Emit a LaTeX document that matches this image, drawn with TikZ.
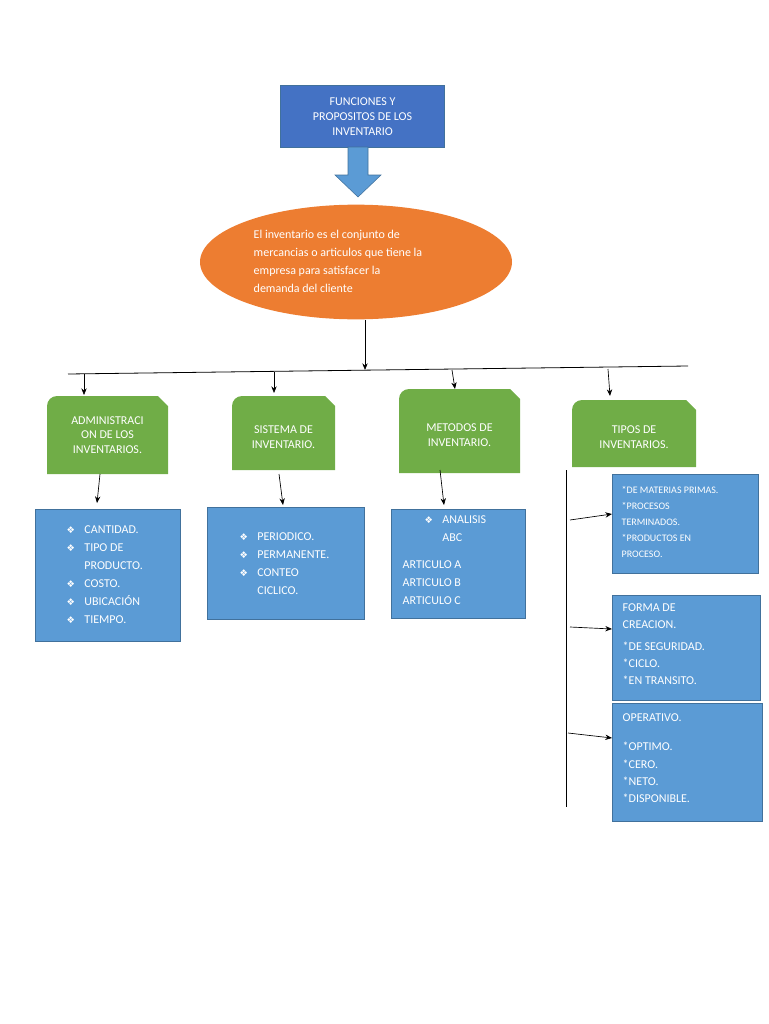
\documentclass[tikz,border=0pt]{standalone}
\usepackage{fontspec}
\setmainfont{Carlito}
\newfontfamily\symf{DejaVu Sans}
\usetikzlibrary{arrows.meta,shapes.geometric}
\definecolor{tb}{HTML}{4472C4}
\definecolor{bb}{HTML}{5B9BD5}
\definecolor{bd}{HTML}{41719C}
\definecolor{og}{HTML}{ED7D31}
\definecolor{gg}{HTML}{70AD47}
\newcommand{\dia}{{\symf\scriptsize ❖}}
\begin{document}
\begin{tikzpicture}[x=0.75pt,y=-0.75pt,
  blue/.style={fill=bb,draw=bd,line width=0.8pt},
  green/.style={fill=gg,draw=none},
  wt/.style={text=white,font=\fontsize{9}{11}\selectfont,align=center},
  arr/.style={-{Stealth[length=5pt,width=4pt]},line width=0.5pt}]
\useasboundingbox (0,0) rectangle (768,1024);
% title
\node[fill=tb,draw=bd,line width=0.8pt,minimum width=123pt,minimum height=46.5pt,wt,anchor=north west] (t) at (280,85) {FUNCIONES Y\\PROPOSITOS DE LOS\\INVENTARIO};
\fill[bb,draw=bd] (348,147) -- (368,147) -- (368,175) -- (381,175) -- (358,197) -- (335,175) -- (348,175) -- cycle;
\node[draw=none,fill=og,ellipse,minimum width=234pt,minimum height=86pt] (e) at (356,262) {};
\node[text=white,font=\fontsize{9}{13.5}\selectfont,align=left,anchor=north west] (et) at (249,225) {El inventario es el conjunto de\\mercancias o articulos que tiene la\\empresa para satisfacer la\\demanda del cliente};
\coordinate (h1) at (68,374); \coordinate (h2) at (688,366);
\draw[line width=0.6pt] (h1) -- (h2);
\coordinate (eb) at (365,370);
\draw[arr] (e.south -| eb) -- (eb);
% green
\def\gbox#1#2#3#4#5{\fill[gg] (#1,#4) -- (#1,#2+10) arc(180:270:10) -- (#3-10,#2) -- (#3,#2+10) -- (#3,#4) -- cycle;}
\gbox{47}{396}{168}{474}{} \node[wt] (g1) at (107.5,435) {ADMINISTRACI\\ON DE LOS\\INVENTARIOS.};
\gbox{232}{396}{335}{470}{} \node[wt] (g2) at (283.5,437) {SISTEMA DE\\INVENTARIO.};
\gbox{399}{389}{520}{473}{} \node[wt] (g3) at (459.5,435) {METODOS DE\\INVENTARIO.};
\gbox{572}{400}{696}{467}{} \node[wt] (g4) at (634,437) {TIPOS DE\\INVENTARIOS.};
\foreach \a/\b/\c/\d in {84/374/84/395,274/372/274/393,452/370/455/389,608/369/610/396,100/474/97/503,279/474/283/505,440/470/444/505}
  \draw[arr] (\a,\b) -- (\c,\d);
% blue boxes
\node[blue,minimum width=108.75pt,minimum height=99pt,anchor=north west] (b1) at (35,509) {};
\node[wt,align=left,anchor=north west,font=\fontsize{9}{13.5}\selectfont] at (62,521) {\dia\hspace{7pt}CANTIDAD.\\\dia\hspace{7pt}TIPO DE\\\hphantom{\dia}\hspace{7pt}PRODUCTO.\\\dia\hspace{7pt}COSTO.\\\dia\hspace{7pt}UBICACIÓN\\\dia\hspace{7pt}TIEMPO.};
\node[blue,minimum width=117.75pt,minimum height=84pt,anchor=north west] (b2) at (207,507) {};
\node[wt,align=left,anchor=north west,font=\fontsize{9}{13.5}\selectfont] at (235,528) {\dia\hspace{7pt}PERIODICO.\\\dia\hspace{7pt}PERMANENTE.\\\dia\hspace{7pt}CONTEO\\\hphantom{\dia}\hspace{7pt}CICLICO.};
\node[blue,minimum width=100.5pt,minimum height=81.75pt,anchor=north west] (b3) at (391,509) {};
\node[wt,align=left,anchor=north west,font=\fontsize{9}{13.5}\selectfont] at (420,511) {\dia\hspace{7pt}ANALISIS\\\hphantom{\dia}\hspace{7pt}ABC};
\node[wt,align=left,anchor=north west,font=\fontsize{9}{13.5}\selectfont] at (398,556) {ARTICULO A\\ARTICULO B\\ARTICULO C};
% right column
\coordinate (v1) at (566,470); \coordinate (v2) at (566,807);
\draw[line width=0.6pt] (v1) -- (v2);
\node[blue,minimum width=109.5pt,minimum height=74.25pt,anchor=north west] (r1) at (612,474) {};
\node[wt,align=left,anchor=north west,font=\fontsize{7.5}{12}\selectfont] at (617,482) {*DE MATERIAS PRIMAS.\\*PROCESOS\\TERMINADOS.\\*PRODUCTOS EN\\PROCESO.};
\node[blue,minimum width=111pt,minimum height=78.75pt,anchor=north west] (r2) at (612,595) {};
\node[wt,align=left,anchor=north west,font=\fontsize{9}{13}\selectfont] at (618,599) {FORMA DE\\CREACION.\\[3pt]*DE SEGURIDAD.\\*CICLO.\\*EN TRANSITO.};
\node[blue,minimum width=112.5pt,minimum height=88.5pt,anchor=north west] (r3) at (612,703) {};
\node[wt,align=left,anchor=north west,font=\fontsize{9}{13}\selectfont] at (618,709) {OPERATIVO.\\[9pt]*OPTIMO.\\*CERO.\\*NETO.\\*DISPONIBLE.};
\draw[arr] (570,520) -- (r1.west |- 0,514);
\draw[arr] (570,627) -- (r2.west |- 0,629);
\draw[arr] (568,733) -- (r3.west |- 0,738);
\end{tikzpicture}
\end{document}
